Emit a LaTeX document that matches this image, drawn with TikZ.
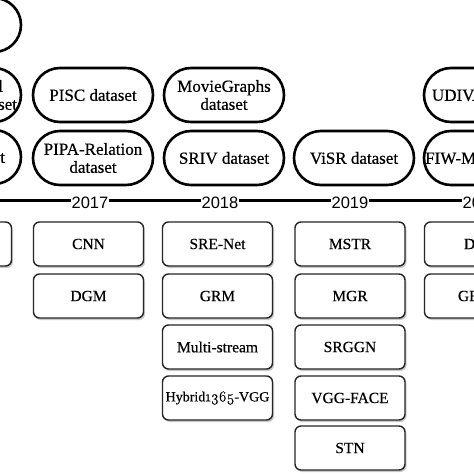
\documentclass[tikz,border=0pt]{standalone}
\usepackage{fontspec}
\setmainfont{Liberation Serif}[FakeBold=0.5]
\newfontfamily\yearfont{Liberation Sans}
\newfontfamily\osfont{Latin Modern Roman}[Numbers=OldStyle,FakeBold=0.8]
\usetikzlibrary{shadows}
\tikzset{
  dset/.style={draw=black, line width=2.6pt, rounded corners=27pt,
    minimum width=120pt, minimum height=54pt, inner sep=0pt, align=center,
    font=\fontsize{17}{18}\selectfont},
  mbox/.style={draw=black!85, line width=1.4pt, rounded corners=6pt,
    minimum width=110pt, minimum height=44pt, inner sep=0pt, fill=white,
    drop shadow={shadow xshift=1.5pt, shadow yshift=-2pt, fill=black!35, opacity=0.6},
    font=\fontsize{15.5}{17}\selectfont},
  yr/.style={fill=white, inner xsep=1pt, inner ysep=1pt, anchor=base,
    font=\yearfont\fontsize{16.5}{17}\selectfont},
  tl/.style={line width=3pt, draw=black}
}
\begin{document}
\begin{tikzpicture}[x=1pt,y=-1pt]
\useasboundingbox (0,0) rectangle (474,474);
\clip (0,0) rectangle (474,474);
\fill[white] (0,0) rectangle (474,474);

% dataset stadiums
\node[dset] (d0a) at (-39,25) {};
\node[dset] (d0b) at (-39,95) {};
\node[dset] (d0c) at (-39,157) {};
\node[font=\fontsize{17}{18}\selectfont, align=center, inner sep=0pt] (t0b) at (-38,95) {Group-level\\Emotion dataset};
\node[font=\fontsize{17}{18}\selectfont, inner sep=0pt] (t0c) at (-42,157) {HHOI dataset};
\node[dset] (d1a) at (93,95) {PISC dataset};
\node[dset] (d1b) at (93,158) {PIPA-Relation\\dataset};
\node[dset] (d2a) at (224,95) {MovieGraphs\\dataset};
\node[dset] (d2b) at (224,158) {SRIV dataset};
\node[dset] (d3b) at (354,158) {ViSR dataset};
\node[dset] (d4a) at (484,95) {UDIVA dataset};
\node[dset] (d4b) at (484,158) {FIW-MM dataset};

% timeline
\coordinate (tlstart) at (-5,200);
\coordinate (tlend) at (480,200);
\draw[tl] (tlstart) -- (tlend);
\node[yr] (y2017) at (90,208) {2017};
\node[yr] (y2018) at (220,208) {2018};
\node[yr] (y2019) at (350,208) {2019};
\node[yr] (y2020) at (481,208) {2020};

% method boxes
\node[mbox] (m0a) at (-43.5,244) {};
\node[mbox] (m1a) at (88.5,244) {CNN};
\node[mbox] (m1b) at (88.5,296) {DGM};
\node[mbox] (m2a) at (217.5,244) {SRE-Net};
\node[mbox] (m2b) at (217.5,296) {GRM};
\node[mbox] (m2c) at (217.5,347) {Multi-stream};
\node[mbox, font=\fontsize{14}{16}\selectfont] (m2d) at (217.5,398) {Hybrid{\osfont\fontsize{15}{16}\selectfont 1365}-VGG};
\node[mbox] (m3a) at (350,244) {MSTR};
\node[mbox] (m3b) at (350,296) {MGR};
\node[mbox] (m3c) at (350,347) {SRGGN};
\node[mbox] (m3d) at (350,398) {VGG-FACE};
\node[mbox] (m3e) at (350,448) {STN};
\node[mbox] (m4a) at (479.5,244) {DSN};
\node[mbox] (m4b) at (479.5,296) {GENet};
\end{tikzpicture}
\end{document}
